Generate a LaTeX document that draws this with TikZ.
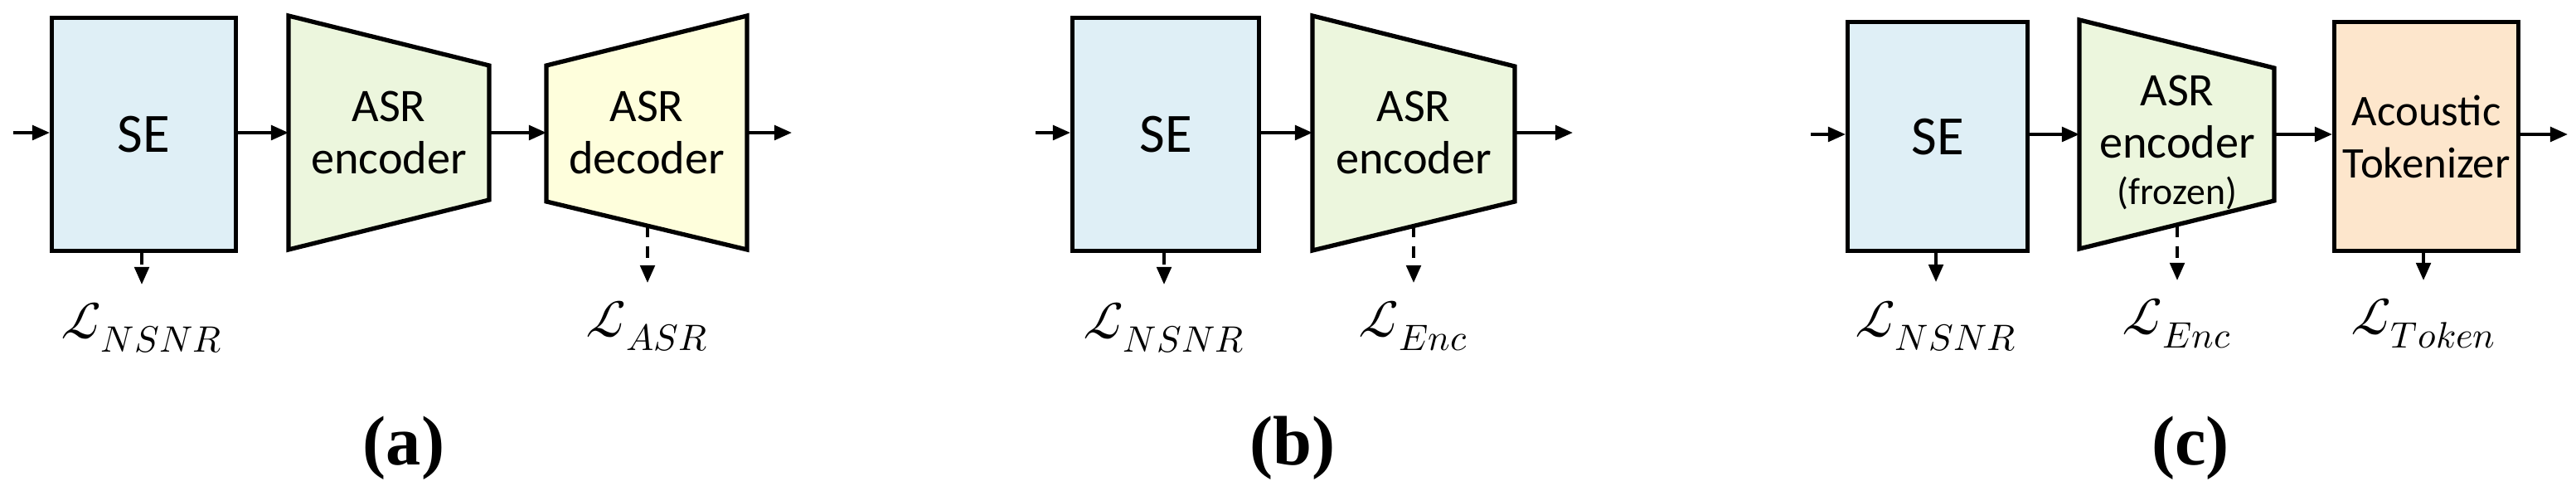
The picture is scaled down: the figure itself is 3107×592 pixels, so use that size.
\documentclass[tikz,border=0pt]{standalone}
\usepackage{fontspec}
\setmainfont{Carlito}
\newfontfamily\serifbf{Liberation Serif}
\usepackage{unicode-math}
\setmathfont{Latin Modern Math}
\usetikzlibrary{arrows.meta}
\definecolor{seblue}{RGB}{223,239,246}
\definecolor{encgreen}{RGB}{236,246,221}
\definecolor{decyellow}{RGB}{254,254,220}
\definecolor{tokorange}{RGB}{253,230,204}
\begin{document}
\begin{tikzpicture}[x=0.01cm,y=-0.01cm,
  blk/.style={draw=black,line width=1.5pt},
  lbl/.style={font=\fontsize{16}{18}\selectfont,align=center,inner sep=0},
  flow/.style={line width=1.1pt,-{Triangle[length=6pt,width=5pt]}},
  loss/.style={line width=1pt,dash pattern=on 4pt off 3pt,-{Triangle[length=6pt,width=5pt]}},
  lossl/.style={font=\fontsize{18}{20}\selectfont,inner sep=0},
  figcap/.style={font=\serifbf\fontsize{24}{26}\selectfont\bfseries,inner sep=0}]
\useasboundingbox (0,0) rectangle (3107,592);
% ===== (a)
\node[blk,fill=seblue,minimum width=222*0.01cm,minimum height=281*0.01cm,anchor=north west,inner sep=0] (aSE) at (60,19) {};
\node[lbl] at (aSE.center) {\fontsize{19}{21}\selectfont SE};
\filldraw[blk,fill=encgreen] (348,19) -- (590,79) -- (590,241) -- (348,301) -- cycle;
\node[lbl] (aEnc) at (469,160) {ASR\\encoder};
\coordinate (aEncL) at (348,160); \coordinate (aEncR) at (590,160);
\filldraw[blk,fill=decyellow] (659,79) -- (901,19) -- (901,301) -- (659,243) -- cycle;
\node[lbl] (aDec) at (780,160) {ASR\\decoder};
\coordinate (aDecL) at (659,160); \coordinate (aDecR) at (901,160);
\coordinate (aIn) at (16,160); \coordinate (aOut) at (955,160);
\draw[flow] (aIn) -- (aSE.west|-aIn);
\draw[flow] (aSE.east|-aIn) -- (aEncL);
\draw[flow] (aEncR) -- (aDecL);
\draw[flow] (aDecR) -- (aOut);
\coordinate (aDecB) at (781,272);
\node[lossl] (aL1) at (171,395) {$\mathcal{L}_{NSNR}$};
\node[lossl] (aL2) at (781,393) {$\mathcal{L}_{ASR}$};
\draw[loss] (aSE.south-|aL1) -- (171,343);
\draw[loss] (aDecB) -- (781,341);
\node[figcap] (ca) at (487,540) {(a)};
% ===== (b)
\node[blk,fill=seblue,minimum width=225*0.01cm,minimum height=281*0.01cm,anchor=north west,inner sep=0] (bSE) at (1291,19) {};
\node[lbl] at (bSE.center) {\fontsize{19}{21}\selectfont SE};
\filldraw[blk,fill=encgreen] (1583,19) -- (1827,80) -- (1827,243) -- (1583,302) -- cycle;
\node[lbl] (bEnc) at (1705,160) {ASR\\encoder};
\coordinate (bEncL) at (1583,160); \coordinate (bEncR) at (1827,160);
\coordinate (bIn) at (1249,160); \coordinate (bOut) at (1897,160);
\draw[flow] (bIn) -- (bSE.west|-bIn);
\draw[flow] (bSE.east|-bIn) -- (bEncL);
\draw[flow] (bEncR) -- (bOut);
\coordinate (bEncB) at (1705,272);
\node[lossl] (bL1) at (1404,395) {$\mathcal{L}_{NSNR}$};
\node[lossl] (bL2) at (1705,393) {$\mathcal{L}_{Enc}$};
\draw[loss] (bSE.south-|bL1) -- (1404,343);
\draw[loss] (bEncB) -- (1705,341);
\node[figcap] (cb) at (1559,540) {(b)};
% ===== (c)
\node[blk,fill=seblue,minimum width=217*0.01cm,minimum height=276*0.01cm,anchor=north west,inner sep=0] (cSE) at (2226,24) {};
\node[lbl] at (cSE.center) {\fontsize{19}{21}\selectfont SE};
\filldraw[blk,fill=encgreen] (2508,24) -- (2743,82) -- (2743,242) -- (2508,300) -- cycle;
\node[lbl] (cEnc) at (2626,172) {ASR\\encoder\\[-2pt]{\fontsize{13}{15}\selectfont (frozen)}};
\coordinate (cEncL) at (2508,162); \coordinate (cEncR) at (2743,162);
\node[blk,fill=tokorange,minimum width=222*0.01cm,minimum height=276*0.01cm,anchor=north west,inner sep=0] (cTok) at (2813,24) {};
\node[lbl,font=\fontsize{15}{18}\selectfont] at (cTok.center) {Acoustic\\Tokenizer};
\coordinate (cIn) at (2184,162); \coordinate (cOut) at (3097,162);
\draw[flow] (cIn) -- (cSE.west|-cIn);
\draw[flow] (cSE.east|-cIn) -- (cEncL);
\draw[flow] (cEncR) -- (cTok.west|-cIn);
\draw[flow] (cTok.east|-cIn) -- (cOut);
\coordinate (cEncB) at (2626,272);
\node[lossl] (cL1) at (2335,393) {$\mathcal{L}_{NSNR}$};
\node[lossl] (cL2) at (2626,390) {$\mathcal{L}_{Enc}$};
\node[lossl] (cL3) at (2923,390) {$\mathcal{L}_{Token}$};
\draw[loss] (cSE.south-|cL1) -- (2335,340);
\draw[loss] (cEncB) -- (2626,338);
\draw[loss] (cTok.south-|cL3) -- (2923,338);
\node[figcap] (cc) at (2642,540) {(c)};
\end{tikzpicture}
\end{document}
